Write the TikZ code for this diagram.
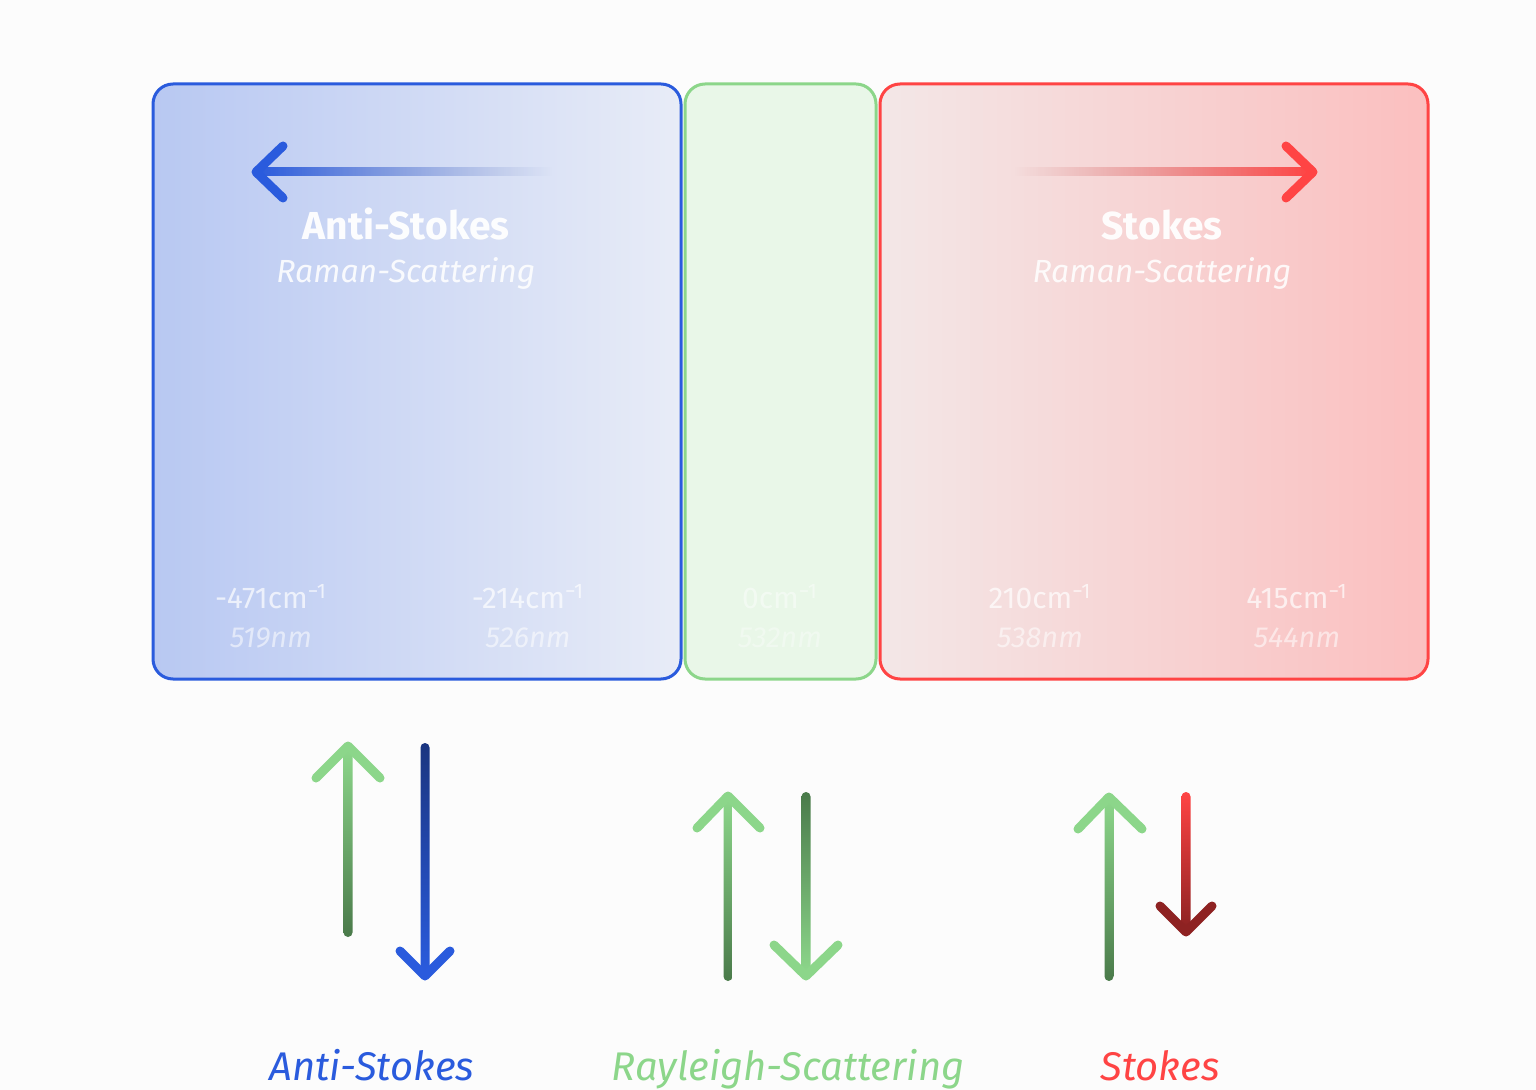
\documentclass[tikz,border=0pt]{standalone}
\usepackage{fontspec}
\setmainfont{Fira Sans}
\usetikzlibrary{fadings}
\definecolor{asblue}{HTML}{2A5BDD}
\definecolor{greyblue}{HTML}{6A80C0}
\definecolor{navy}{HTML}{1A3580}
\definecolor{lgreen}{HTML}{8CD68A}
\definecolor{dgreen}{HTML}{4A7A4A}
\definecolor{sred}{HTML}{FF4444}
\definecolor{rosered}{HTML}{C87070}
\definecolor{dred}{HTML}{8E2222}
\definecolor{bgcol}{HTML}{FCFCFC}
\definecolor{bfillL}{HTML}{B8C8F2}
\definecolor{bfillR}{HTML}{E8ECF7}
\definecolor{gfill}{HTML}{E9F7E8}
\definecolor{rfillL}{HTML}{F3E7E7}
\definecolor{rfillR}{HTML}{FBBFBF}
\pgfdeclarehorizontalshading{bluegrad}{100bp}{color(0bp)=(bfillL); color(25bp)=(bfillL); color(75bp)=(bfillR); color(100bp)=(bfillR)}
\pgfdeclarehorizontalshading{redgrad}{100bp}{color(0bp)=(rfillL); color(25bp)=(rfillL); color(75bp)=(rfillR); color(100bp)=(rfillR)}
\tikzfading[name=fadetoright, left color=transparent!0, right color=transparent!100]
\tikzfading[name=fadetoleft, left color=transparent!100, right color=transparent!0]
\begin{document}
\begin{tikzpicture}[x=0.5pt,y=-0.5pt,
  panel/.style={draw, line width=1.5pt, rounded corners=10pt, inner sep=0pt, minimum height=297.5pt},
  title/.style={anchor=base, text=white, text opacity=0.95, font=\fontsize{19.5}{21}\selectfont\bfseries},
  sub/.style={anchor=base, text=white, text opacity=0.88, font=\fontsize{16}{18}\selectfont\itshape},
  wn/.style={anchor=base, text=white, text opacity=0.7, font=\fontsize{15}{17}\selectfont},
  nm/.style={anchor=base, text=white, text opacity=0.55, font=\fontsize{14.5}{16}\selectfont\itshape},
  head/.style={line width=4.5pt, line cap=round, line join=round},
  lab/.style={anchor=base, font=\fontsize{20}{22}\selectfont\itshape}
]
\fill[bgcol] (0,0) rectangle (1536,1090);
\useasboundingbox (0,0) rectangle (1536,1090);

% panels
\node[panel, draw=asblue, minimum width=264pt, shading=bluegrad] (as) at (417,381.5) {};
\node[panel, draw=lgreen, minimum width=95.5pt, fill=gfill] (ray) at (780.5,381.5) {};
\node[panel, draw=sred, minimum width=274pt, shading=redgrad] (st) at (1154,381.5) {};

% arrows in panels
\coordinate (asTip) at (256,172);
\shade[left color=asblue, right color=greyblue, path fading=fadetoright] (258,168) rectangle (552,176);
\draw[asblue, head] (283,146) -- (asTip) -- (283,198);
\coordinate (stTip) at (1313,172);
\shade[left color=rosered, right color=sred, path fading=fadetoleft] (1014,168) rectangle (1311,176);
\draw[sred, head] (1286,146) -- (stTip) -- (1286,198);

% titles
\node[title] (t1) at (406,240) {Anti-Stokes};
\node[sub] (s1) at (406,283) {Raman-Scattering};
\node[title] (t2) at (1162,240) {Stokes};
\node[sub] (s2) at (1162,283) {Raman-Scattering};

% numbers
\node[wn] (n1) at (271,609) {-471cm\textsuperscript{−1}};
\node[nm] (m1) at (271,647) {519nm};
\node[wn] (n2) at (528,609) {-214cm\textsuperscript{−1}};
\node[nm] (m2) at (528,647) {526nm};
\node[wn, text opacity=0.45] (n3) at (780,609) {0cm\textsuperscript{−1}};
\node[nm, text opacity=0.35] (m3) at (780,647) {532nm};
\node[wn] (n4) at (1040,609) {210cm\textsuperscript{−1}};
\node[nm] (m4) at (1040,647) {538nm};
\node[wn] (n5) at (1297,609) {415cm\textsuperscript{−1}};
\node[nm] (m5) at (1297,647) {544nm};

% bottom arrows: anti-stokes
\shade[top color=lgreen, bottom color=dgreen, rounded corners=2.25pt] (343.5,750) rectangle (352.5,937);
\draw[lgreen, head] (316,778) -- (348,746) -- (380,778);
\shade[top color=navy, bottom color=asblue, rounded corners=2.25pt] (420.5,743) rectangle (429.5,972);
\draw[asblue, head] (400,951) -- (425,976) -- (450,951);

% rayleigh
\shade[top color=lgreen, bottom color=dgreen, rounded corners=2.25pt] (723.5,800) rectangle (732.5,981);
\draw[lgreen, head] (697,828) -- (728,796) -- (760,828);
\shade[top color=dgreen, bottom color=lgreen, rounded corners=2.25pt] (801.5,792) rectangle (810.5,972);
\draw[lgreen, head] (774,945) -- (806,976) -- (838,945);

% stokes
\shade[top color=lgreen, bottom color=dgreen, rounded corners=2.25pt] (1104.5,800) rectangle (1113.5,981);
\draw[lgreen, head] (1078,829) -- (1109,797) -- (1142,829);
\shade[top color=sred, bottom color=dred, rounded corners=2.25pt] (1181.5,792) rectangle (1190.5,928);
\draw[dred, head] (1160,906) -- (1186,932) -- (1212,906);

% labels
\node[lab, text=asblue] (l1) at (372,1080) {Anti-Stokes};
\node[lab, text=lgreen] (l2) at (788,1080) {Rayleigh-Scattering};
\node[lab, text=sred] (l3) at (1160,1080) {Stokes};
\end{tikzpicture}
\end{document}
